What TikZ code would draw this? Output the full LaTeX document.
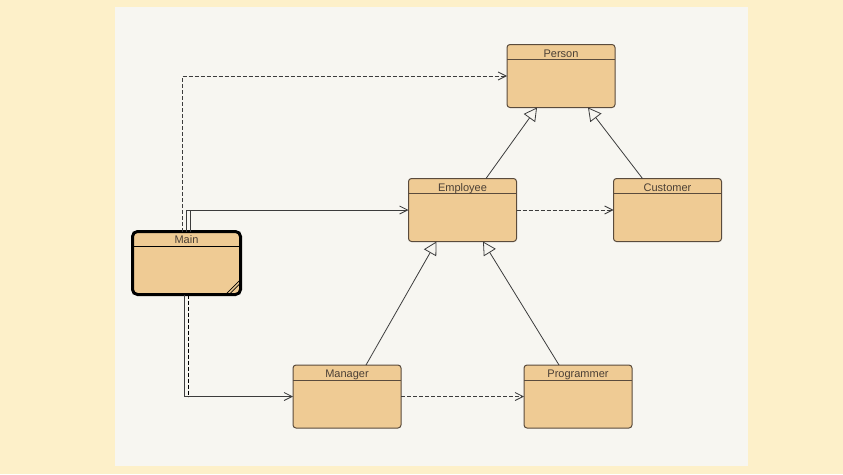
\documentclass[tikz,border=0pt]{standalone}
\usepackage{fontspec}
\setmainfont{Liberation Sans}
\usetikzlibrary{arrows.meta,calc}
\definecolor{outerbg}{HTML}{FDF0C9}
\definecolor{panelbg}{HTML}{F7F6F1}
\definecolor{boxfill}{HTML}{EFCB94}
\definecolor{boxline}{HTML}{5A4B3C}
\definecolor{txt}{HTML}{4A3F35}
\definecolor{conn}{HTML}{3C3C3C}
\begin{document}
\begin{tikzpicture}[x=1pt,y=-1pt,
  classbox/.style={draw=boxline, fill=boxfill, line width=1pt, rounded corners=3pt,
    minimum width=108pt, minimum height=63pt, inner sep=0pt, outer sep=0pt},
  mainbox/.style={classbox, draw=black, line width=3pt, rounded corners=5pt},
  titletext/.style={font=\fontsize{11}{12}\selectfont, text=txt, inner sep=0pt, anchor=base},
  sepline/.style={draw=boxline, line width=1pt},
  dep/.style={draw=conn, line width=0.8pt, dash pattern=on 4pt off 2pt,
    -{Straight Barb[length=8pt,width=8pt]}},
  assoc/.style={draw=conn, line width=0.8pt, -{Straight Barb[length=8pt,width=8pt]}},
  plainline/.style={draw=conn, line width=0.8pt},
  dashline/.style={draw=black, line width=0.8pt, dash pattern=on 4pt off 2pt},
  gen/.style={draw=conn, line width=0.8pt,
    -{Triangle[open, length=13pt, width=14pt, fill=panelbg]}}]
\fill[outerbg] (0,0) rectangle (843,474);
\fill[panelbg] (115,7) rectangle (748,466);
\useasboundingbox (0,0) rectangle (843,474);

% classes
\node[classbox] (person) at (561,76) {};
\node[classbox] (employee) at (462.5,210) {};
\node[classbox] (customer) at (667.5,210) {};
\node[classbox] (manager) at (347,396.5) {};
\node[classbox] (programmer) at (578,396.5) {};
\node[mainbox] (main) at (186.5,263) {};

% title separators and names
\foreach \b/\t in {person/Person, employee/Employee, customer/Customer, manager/Manager, programmer/Programmer}{
  \draw[sepline] ($(\b.north west)+(0,15)$) -- ($(\b.north east)+(0,15)$);
  \node[titletext] (\b-title) at ($(\b.north)+(0,12.5)$) {\t};
}
\draw[sepline, draw=black] ($(main.north west)+(0,14.5)$) -- ($(main.north east)+(0,14.5)$);
\node[titletext] (main-title) at ($(main.north)+(0,12)$) {Main};
% resize grip
\draw[black, line width=0.7pt] ($(main.south east)+(-15,0)$) -- ($(main.south east)+(0,-15)$);
\draw[black, line width=0.7pt] ($(main.south east)+(-11.5,0)$) -- ($(main.south east)+(0,-11.5)$);

% Main connectors
\draw[dep] ([xshift=-4.5pt]main.north) |- (person.west);
\draw[assoc] ([xshift=-0.5pt]main.north) |- (employee.west);
\draw[plainline] ([xshift=3.5pt]main.north) -- ([xshift=3.5pt]main.north |- employee.west);
\draw[assoc] ([xshift=-2.5pt]main.south) |- (manager.west);
\draw[dashline] ([xshift=1.5pt]main.south) -- ([xshift=1.5pt]main.south |- manager.west);

% generalizations
\draw[gen] ([xshift=23.5pt]employee.north) -- ([xshift=-24pt]person.south);
\draw[gen] ([xshift=-25pt]customer.north) -- ([xshift=27pt]person.south);
\draw[gen] ([xshift=19pt]manager.north) -- ([xshift=-26pt]employee.south);
\draw[gen] ([xshift=-19pt]programmer.north) -- ([xshift=20.5pt]employee.south);

% dependencies
\draw[dep] (employee.east) -- (customer.west);
\draw[dep] (manager.east) -- (programmer.west);
\end{tikzpicture}
\end{document}
